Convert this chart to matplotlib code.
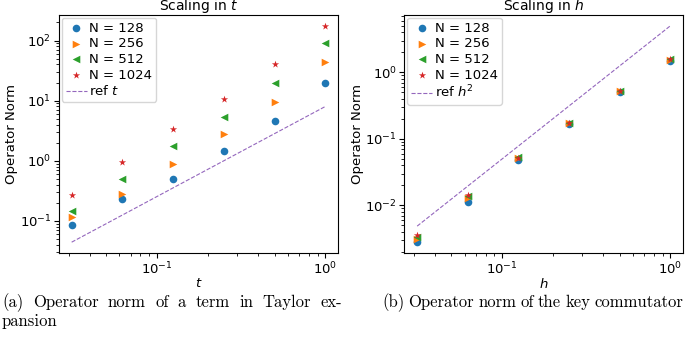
import matplotlib
matplotlib.use('Agg')
import matplotlib.pyplot as plt

# valores
t_vals = [1/32, 1/16, 1/8, 1/4, 1/2, 1]
h_vals = [1/32, 1/16, 1/8, 1/4, 1/2, 1]
n_labels = ['N = 128', 'N = 256', 'N = 512', 'N = 1024']

norm_t_128 = [0.085, 0.23, 0.495, 1.47, 4.6, 19.7]
norm_t_256 = [0.118, 0.28, 0.90, 2.8, 9.5, 44]
norm_t_512 = [0.148, 0.50, 1.73, 5.4, 19.7, 90]
norm_t_1024 = [0.27, 0.96, 3.4, 10.8, 40, 176]
ref_t = [0.0442, 0.125, 0.354, 1.0, 2.83, 8.0]

norm_h_128 = [0.0028, 0.0114, 0.0486, 0.170, 0.51, 1.50]
norm_h_256 = [0.0031, 0.0130, 0.0510, 0.175, 0.52, 1.55]
norm_h_512 = [0.0034, 0.0138, 0.0534, 0.176, 0.52, 1.56]
norm_h_1024 = [0.0036, 0.0143, 0.0520, 0.175, 0.52, 1.56]
ref_h = [0.00488, 0.0195, 0.078, 0.3125, 1.25, 5.0]

markers = ['o', '>', '<', '*']
cores = ['C0', 'C1', 'C2', 'C3']

plt.rcParams['font.size'] = 9.5

W, H = 685, 340
fig = plt.figure(figsize=(6.85, 3.4), dpi=100)
ax1 = fig.add_axes([0.0861, 0.2559, 0.4073, 0.700])
ax2 = fig.add_axes([0.5905, 0.2559, 0.4066, 0.700])


def painel(ax, x, series, ref, ref_label, var):
    for y, m, c, lab in zip(series, markers, cores, n_labels):
        ax.scatter(x, y, marker=m, color=c, s=30, label=lab, linewidths=0)
    ax.plot(x, ref, '--', color='C4', lw=0.8, label=ref_label)
    ax.set_xscale('log')
    ax.set_yscale('log')
    ax.set_title('Scaling in $%s$' % var, fontsize=10, pad=0)
    ax.set_xlabel('$%s$' % var, fontsize=9.5, labelpad=0)
    ax.set_ylabel('Operator Norm', fontsize=9.5, labelpad=1)
    ax.tick_params(labelsize=9.5, pad=2)
    ax.legend(loc='upper left', fontsize=9.5, handletextpad=0.2,
              borderpad=0.3, labelspacing=0.2, handlelength=1.6,
              borderaxespad=0.2, scatterpoints=1)


painel(ax1, t_vals, [norm_t_128, norm_t_256, norm_t_512, norm_t_1024],
       ref_t, 'ref $t$', 't')
painel(ax2, h_vals, [norm_h_128, norm_h_256, norm_h_512, norm_h_1024],
       ref_h, 'ref $h^2$', 'h')

# legendas das figuras (linhas justificadas, como no LaTeX)
CAP = dict(family='cmr10', fontsize=12, ha='left', va='baseline')
renderer = fig.canvas.get_renderer()


def linha_justificada(texto, x0, x1, y):
    palavras = texto.split(' ')
    objs = [fig.text(0, 1 - y / H, p, **CAP) for p in palavras]
    larguras = [o.get_window_extent(renderer).width for o in objs]
    gap = (x1 - x0 - sum(larguras)) / (len(palavras) - 1)
    x = x0
    for o, w in zip(objs, larguras):
        o.set_x(x / W)
        x += w + gap


linha_justificada('(a) Operator norm of a term in Taylor ex-', 2, 342, 307)
fig.text(2 / W, 1 - 326 / H, 'pansion', **CAP)
linha_justificada('(b) Operator norm of the key commutator', 382, 683, 307)

plt.savefig('out.png', dpi=100, facecolor='white')
plt.close()
